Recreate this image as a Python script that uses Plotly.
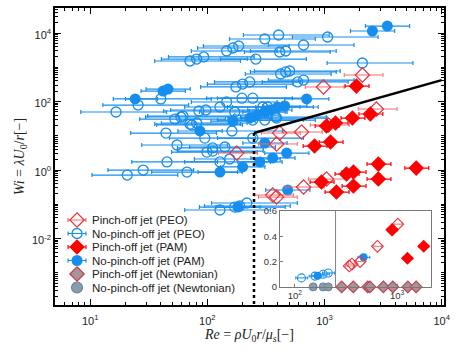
import plotly.graph_objects as go

# ---------------- data (Re, Wi) ----------------
# No-pinch-off jet (PEO) - open blue circles
peo_np_re = [406, 309, 662, 1062, 146, 165, 185, 414, 466, 259, 71, 81, 93, 175, 200, 230,
             422, 466, 504, 589, 662, 2105, 40, 25.6, 16.6, 52.8, 59.4, 84.7, 97, 71, 81, 146,
             128, 171, 244, 327, 390, 44.3, 73.8, 55, 95, 99, 111, 45.2, 28.3, 20.7, 66.9, 128,
             155, 141, 244, 128, 171, 189, 217, 162, 111, 61.8, 197, 297, 309, 383, 244]
peo_np_wi = [8740, 6675, 4462, 7639, 2981, 3648, 4173, 2788, 2981, 1739, 1521, 1739, 1998, 266, 324, 372,
             635, 729, 778, 372, 424, 1332, 119, 79, 49.4, 30.8, 35.3, 52.9, 56.6, 22.0, 23.6, 96.8,
             69.1, 49.4, 125, 69.1, 32.9, 12.0, 20.6, 5.38, 8.58, 3.35, 4.41, 1.72, 1.0, 0.714, 0.874, 1.72,
             2.10, 4.71, 8.58, 0.068, 0.083, 0.089, 0.109, 13.8, 3.57, 37.7, 125, 69.1, 28.8, 35.3, 28.8]

# No-pinch-off jet (PAM) - filled blue circles
pam_np_re = [3438, 2563, 41.8, 46.1, 24.2, 703, 165, 264, 309, 398, 457, 86.3, 128, 200, 280, 361,
             475, 309, 484, 182, 340, 230]
pam_np_wi = [15900, 11450, 202, 231, 119, 119, 26.9, 40.3, 49.4, 69.1, 74.0, 13.8, 0.874, 1.23, 1.72, 2.25,
             3.13, 6.15, 0.261, 0.083, 56.6, 32.9]

# Pinch-off jet (PEO) - open red diamonds
peo_p_re = [979, 2105, 2773, 637, 1081, 414, 390, 361, 390, 662, 1040, 178]
peo_p_wi = [266, 595, 60.5, 12.9, 20.6, 12.0, 5.76, 0.186, 0.162, 0.319, 0.546, 3.13]

# Pinch-off jet (PAM) - filled red diamonds
pam_p_re = [1872, 2460, 1729, 1040, 1241, 822, 1125, 1539, 1766, 2884, 6067, 942, 1766, 2884, 1264]
pam_p_wi = [282, 43.2, 32.9, 19.3, 23.6, 5.02, 6.55, 0.764, 0.874, 1.49, 1.14, 0.446, 0.341, 0.546, 0.228]

# boundary lines
line_re = [250, 10000]
line_wi = [12, 420]
re_crit = 250
wi_bottom = 1e-4

# inset (linear Wi)
ins_peo_np_re = [116, 157, 189, 212]
ins_peo_np_wi = [0.071, 0.085, 0.10, 0.11]
ins_pam_np_re = [167, 470]
ins_pam_np_wi = [0.087, 0.233]
ins_peo_p_re = [340, 362, 434, 641, 887, 1016]
ins_peo_p_wi = [0.165, 0.18, 0.20, 0.32, 0.45, 0.495]
ins_pam_p_re = [900, 1262, 1820]
ins_pam_p_wi = [0.45, 0.225, 0.32]
ins_newt_np_re = [151, 189, 212]
ins_newt_np_wi = [0, 0, 0]
ins_newt_p_re = [287, 373, 516, 543, 734, 908, 1273, 1535]
ins_newt_p_wi = [0, 0, 0, 0, 0, 0, 0, 0]

legend_labels = ["Pinch-off jet (PEO)", "No-pinch-off jet (PEO)", "Pinch-off jet (PAM)",
                 "No-pinch-off jet (PAM)", "Pinch-off jet (Newtonian)", "No-pinch-off jet (Newtonian)"]

# ---------------- styles ----------------
BLUE = "rgb(22,142,238)"
RED = "rgb(255,0,0)"
PINK = "rgb(232,50,60)"
PINKBAR = "rgb(240,110,110)"
GRAYC = "rgb(140,155,170)"
GRAYC_L = "rgb(100,130,165)"
GRAYD = "rgb(165,150,150)"
GRAYD_L = "rgb(200,60,80)"
SANS = "Liberation Sans, Arial, sans-serif"
SERIF = "Liberation Serif, Times New Roman, serif"


def perr(plus, minus, color, thick=1.2, w=2):
    return dict(type="percent", symmetric=False, value=plus, valueminus=minus,
                color=color, thickness=thick, width=w)


fig = go.Figure()

# main plot
fig.add_trace(go.Scatter(x=peo_np_re, y=peo_np_wi, mode="markers",
                         marker=dict(symbol="circle-open", size=10, color=BLUE, line=dict(width=1.3)),
                         error_x=perr(170, 50, BLUE), showlegend=False))
fig.add_trace(go.Scatter(x=pam_np_re, y=pam_np_wi, mode="markers",
                         marker=dict(symbol="circle", size=11, color=BLUE),
                         error_x=perr(55, 35, BLUE), showlegend=False))
fig.add_trace(go.Scatter(x=peo_p_re, y=peo_p_wi, mode="markers",
                         marker=dict(symbol="diamond-open", size=11, color=PINK, line=dict(width=1.2)),
                         error_x=perr(50, 30, PINKBAR, 1.0), showlegend=False))
fig.add_trace(go.Scatter(x=pam_p_re, y=pam_p_wi, mode="markers",
                         marker=dict(symbol="diamond", size=12, color=RED),
                         error_x=perr(28, 20, RED, 1.2), showlegend=False))
fig.add_trace(go.Scatter(x=line_re, y=line_wi, mode="lines",
                         line=dict(color="black", width=2.5), showlegend=False))
fig.add_trace(go.Scatter(x=[re_crit, re_crit], y=[line_wi[0], wi_bottom], mode="lines",
                         line=dict(color="black", width=2.5, dash="dot"), showlegend=False))

# inset
fig.add_trace(go.Scatter(x=[re_crit, re_crit], y=[0, 0.6], mode="lines", xaxis="x2", yaxis="y2",
                         line=dict(color="rgb(130,130,130)", width=1), showlegend=False))
fig.add_trace(go.Scatter(x=ins_peo_np_re, y=ins_peo_np_wi, mode="markers", xaxis="x2", yaxis="y2",
                         marker=dict(symbol="circle-open", size=8, color=BLUE, line=dict(width=1.1)),
                         error_x=perr(15, 12, BLUE, 1.0, 1.5), showlegend=False))
fig.add_trace(go.Scatter(x=ins_pam_np_re, y=ins_pam_np_wi, mode="markers", xaxis="x2", yaxis="y2",
                         marker=dict(symbol="circle", size=8, color=BLUE),
                         error_x=perr(15, 12, BLUE, 1.0, 1.5), showlegend=False))
fig.add_trace(go.Scatter(x=ins_peo_p_re, y=ins_peo_p_wi, mode="markers", xaxis="x2", yaxis="y2",
                         marker=dict(symbol="diamond-open", size=9, color=PINK, line=dict(width=1.1)),
                         error_x=perr(10, 8, PINKBAR, 1.0, 1.5), showlegend=False))
fig.add_trace(go.Scatter(x=ins_pam_p_re, y=ins_pam_p_wi, mode="markers", xaxis="x2", yaxis="y2",
                         marker=dict(symbol="diamond", size=10, color=RED),
                         error_x=perr(12, 10, RED, 1.0, 1.5), showlegend=False))
fig.add_trace(go.Scatter(x=ins_newt_np_re, y=ins_newt_np_wi, mode="markers", xaxis="x2", yaxis="y2",
                         cliponaxis=False,
                         marker=dict(symbol="circle", size=8, color=GRAYC, line=dict(width=1, color=GRAYC_L)),
                         showlegend=False))
fig.add_trace(go.Scatter(x=ins_newt_p_re, y=ins_newt_p_wi, mode="markers", xaxis="x2", yaxis="y2",
                         cliponaxis=False,
                         marker=dict(symbol="diamond", size=9, color=GRAYD, line=dict(width=1.2, color=GRAYD_L)),
                         showlegend=False))

# hand-made legend (symbols on an overlaid unit axis)
leg_x = 0.0566
leg_y = [0.2862, 0.2407, 0.1953, 0.1498, 0.1044, 0.0589]
leg_styles = [
    dict(marker=dict(symbol="diamond-open", size=11, color=PINK, line=dict(width=1.2)), bar=PINKBAR),
    dict(marker=dict(symbol="circle-open", size=10, color=BLUE, line=dict(width=1.3)), bar=BLUE),
    dict(marker=dict(symbol="diamond", size=12, color=RED), bar=RED),
    dict(marker=dict(symbol="circle", size=11, color=BLUE), bar=BLUE),
    dict(marker=dict(symbol="diamond", size=11, color=GRAYD, line=dict(width=1.3, color=GRAYD_L)), bar=None),
    dict(marker=dict(symbol="circle", size=11, color=GRAYC, line=dict(width=1.1, color=GRAYC_L)), bar=None),
]
for yy, st, lab in zip(leg_y, leg_styles, legend_labels):
    ex = None
    if st["bar"]:
        ex = dict(type="constant", value=0.023, color=st["bar"], thickness=1.2, width=2)
    fig.add_trace(go.Scatter(x=[leg_x], y=[yy], mode="markers", xaxis="x3", yaxis="y3",
                             marker=st["marker"], error_x=ex, showlegend=False, hoverinfo="skip"))
    fig.add_annotation(x=0.09, y=yy, xref="paper", yref="paper", text=lab, showarrow=False,
                       xanchor="left", yanchor="middle",
                       font=dict(family=SANS, size=11.5, color="#222"))

axis_common = dict(showgrid=False, zeroline=False, showline=True, linecolor="black", linewidth=1.5,
                   mirror="allticks", ticks="inside", ticklen=6, tickwidth=1, tickcolor="black",
                   tickfont=dict(family=SANS, size=11, color="#222"),
                   minor=dict(ticks="inside", ticklen=3, tickwidth=0.8, tickcolor="black", dtick="D1",
                              showgrid=False))

fig.update_layout(
    width=474, height=355,
    margin=dict(l=55, r=30, t=8, b=50),
    paper_bgcolor="white", plot_bgcolor="white",
    showlegend=False,
    xaxis=dict(type="log", range=[0.699, 4.02], domain=[0, 1],
               tickvals=[10, 100, 1000, 10000],
               ticktext=["10<sup>1</sup>", "10<sup>2</sup>", "10<sup>3</sup>", "10<sup>4</sup>"],
               ticklabelstandoff=5,
               title=dict(text="<i>Re</i> = <i>ρU</i><sub>0</sub><i>r</i>/<i>μ</i><sub><i>s</i></sub>[−]",
                          font=dict(family=SERIF, size=14, color="#222"), standoff=0),
               automargin=False, **axis_common),
    yaxis=dict(type="log", range=[-3.94, 4.73], domain=[0, 1],
               tickvals=[1e-2, 1, 1e2, 1e4],
               ticktext=["10<sup>-2</sup>", "10<sup>0</sup>", "10<sup>2</sup>", "10<sup>4</sup>"],
               ticklabelshift=2,
               title=dict(text="<i>Wi</i> = <i>λU</i><sub>0</sub>/<i>r</i>[−]",
                          font=dict(family=SERIF, size=14, color="#222"), standoff=4),
               automargin=False, **axis_common),
    xaxis2=dict(type="log", range=[1.853, 3.333], domain=[0.578, 0.967], anchor="y2",
                tickvals=[100, 1000], ticktext=["10<sup>2</sup>", "10<sup>3</sup>"],
                showgrid=False, zeroline=False, showline=True, linecolor="rgb(120,120,120)", linewidth=1,
                mirror=True, ticks="inside", ticklen=3, tickcolor="rgb(120,120,120)",
                tickfont=dict(family=SANS, size=9.5, color="#333"), automargin=False),
    yaxis2=dict(range=[0, 0.6], domain=[0.061, 0.317], anchor="x2",
                tickvals=[0, 0.2, 0.4, 0.6], ticktext=["0", "0.2", "0.4", "0.6"],
                showgrid=False, zeroline=False, showline=True, linecolor="rgb(120,120,120)", linewidth=1,
                mirror=True, ticks="inside", ticklen=3, tickcolor="rgb(120,120,120)",
                tickfont=dict(family=SANS, size=9.5, color="#333"), automargin=False),
    xaxis3=dict(range=[0, 1], overlaying="x", anchor="y3", visible=False, fixedrange=True),
    yaxis3=dict(range=[0, 1], overlaying="y", anchor="x3", visible=False, fixedrange=True),
)

fig.write_html("out.html", config={"displayModeBar": False},
               post_script="document.body.style.margin='0px';")
